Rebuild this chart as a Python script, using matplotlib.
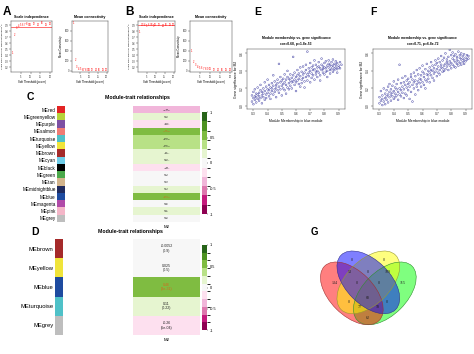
import matplotlib
matplotlib.use("Agg")
import matplotlib.pyplot as plt
import numpy as np
from matplotlib.colors import ListedColormap, BoundaryNorm
from matplotlib.cm import ScalarMappable
from matplotlib.patches import Ellipse

plt.rcParams["font.family"] = ["Liberation Sans", "DejaVu Sans"]

W, H = 474, 354

# ---- A / B : soft threshold selection ----
POWERS = [1, 2, 3, 4, 5, 6, 7, 8, 9, 10, 12, 14, 16, 18, 20]
A_R2 = [0.44, 0.74, 0.85, 0.88, 0.90, 0.91, 0.90, 0.92, 0.91, 0.90, 0.92, 0.90, 0.93, 0.91, 0.92]
A_K = [960, 220, 80, 40, 22, 14, 10, 8, 6, 5, 4, 3, 3, 2, 2]
A_CUT = 0.87
B_R2 = [0.78, 0.90, 0.91, 0.90, 0.89, 0.90, 0.91, 0.90, 0.89, 0.90, 0.90, 0.89, 0.90, 0.91, 0.90]
B_K = [385, 164, 108, 72, 55, 44, 36, 30, 26, 22, 17, 14, 11, 9, 8]
B_CUT = 0.90

# ---- C / D : module-trait heatmaps ----
C_MODULES = ["MEred", "MEgreenyellow", "MEpurple", "MEsalmon", "MEturquoise", "MEyellow",
             "MEbrown", "MEcyan", "MEblack", "MEgreen", "MEtan", "MEmidnightblue",
             "MEblue", "MEmagenta", "MEpink", "MEgrey"]
C_SWATCH = ["#e32424", "#b5d33a", "#7d4fa3", "#f07c74", "#4fc1c8", "#f0e43a",
            "#a52a2a", "#6ecde8", "#000000", "#4aa84a", "#d2b48c", "#1f2a5e",
            "#1e4ba0", "#b04aa8", "#f4b6c8", "#bebebe"]
C_COR = [-0.30, 0.12, -0.15, 0.50, 0.38, 0.35, 0.20, 0.18, -0.20, 0.04, 0.03, 0.14,
         0.46, 0.05, 0.11, 0.02]
C_P = ["6e-04", "0.2", "0.09", "1e-09", "8e-06", "4e-05", "0.02", "0.04", "0.02", "0.6",
       "0.7", "0.1", "3e-31", "0.6", "0.2", "0.8"]
D_MODULES = ["MEbrown", "MEyellow", "MEblue", "MEturquoise", "MEgrey"]
D_SWATCH = ["#a52a2a", "#f0e43a", "#1e4ba0", "#4fc1c8", "#bebebe"]
D_COR = [-0.0052, 0.025, 0.46, 0.11, -0.26]
D_P = ["0.9", "0.5", "3e-31", "0.22", "5e-04"]
TRAIT = "M2"
PIYG11 = ["#8e0152", "#c51b7d", "#de77ae", "#f1b6da", "#fde0ef", "#f7f7f7",
          "#e6f5d0", "#b8e186", "#7fbc41", "#4d9221", "#276419"]

# ---- E / F : module membership vs gene significance ----
E_ROWS = [
    (0.29, [0.12, 0.05]), (0.30, [0.16, 0.02, 0.09]), (0.31, [0.11, 0.19, 0.07]),
    (0.32, [0.14, 0.04, 0.10]), (0.33, [0.21, 0.08, 0.13]), (0.34, [0.06, 0.15, 0.11]),
    (0.35, [0.18, 0.09, 0.24]), (0.36, [0.12, 0.03, 0.16]), (0.37, [0.20, 0.10, 0.14]),
    (0.38, [0.07, 0.17, 0.27]), (0.39, [0.13, 0.22, 0.09]), (0.40, [0.19, 0.15, 0.30]),
    (0.41, [0.11, 0.24, 0.18]), (0.42, [0.21, 0.14, 0.08]), (0.43, [0.26, 0.17, 0.20]),
    (0.44, [0.35, 0.13, 0.23]), (0.45, [0.19, 0.28, 0.16]), (0.46, [0.24, 0.10, 0.21]),
    (0.47, [0.30, 0.18, 0.26]), (0.48, [0.48, 0.22, 0.15]), (0.49, [0.27, 0.19, 0.33]),
    (0.50, [0.23, 0.12, 0.29]), (0.51, [0.31, 0.20, 0.25]), (0.52, [0.18, 0.36, 0.27]),
    (0.53, [0.24, 0.30, 0.14]), (0.54, [0.33, 0.21, 0.40]), (0.55, [0.26, 0.19, 0.31]),
    (0.56, [0.36, 0.23, 0.29]), (0.57, [0.20, 0.32, 0.27]), (0.58, [0.56, 0.28, 0.35]),
    (0.59, [0.24, 0.38, 0.30]), (0.60, [0.33, 0.17, 0.27]), (0.61, [0.29, 0.41, 0.35]),
    (0.62, [0.37, 0.25, 0.31]), (0.63, [0.22, 0.34, 0.44]), (0.64, [0.39, 0.30, 0.26]),
    (0.65, [0.32, 0.45, 0.36]), (0.66, [0.28, 0.38, 0.21]), (0.67, [0.41, 0.33, 0.47]),
    (0.68, [0.62, 0.36, 0.29]), (0.69, [0.34, 0.43, 0.38]), (0.70, [0.40, 0.27, 0.49]),
    (0.71, [0.37, 0.44, 0.32]), (0.72, [0.46, 0.35, 0.41]), (0.73, [0.30, 0.42, 0.52]),
    (0.74, [0.39, 0.47, 0.36]), (0.75, [0.44, 0.33, 0.40]), (0.76, [0.50, 0.38, 0.45]),
    (0.77, [0.35, 0.43, 0.29]), (0.78, [0.47, 0.41, 0.54]), (0.79, [0.38, 0.45, 0.42]),
    (0.80, [0.49, 0.36, 0.44]), (0.81, [0.43, 0.51, 0.39]), (0.82, [0.46, 0.40, 0.33]),
    (0.83, [0.52, 0.44, 0.48]), (0.84, [0.41, 0.47, 0.37]), (0.85, [0.45, 0.50, 0.42]),
    (0.86, [0.39, 0.46, 0.53]), (0.87, [0.48, 0.43, 0.41]), (0.88, [0.44, 0.51, 0.47]),
    (0.89, [0.42, 0.38, 0.49]), (0.90, [0.46, 0.44]), (0.91, [0.43, 0.50]), (0.92, [0.47]),
]
F_ROWS = [
    (0.30, [0.03, 0.10]), (0.31, [0.17, 0.06]), (0.32, [0.01, 0.12, 0.08]),
    (0.33, [0.20, 0.05]), (0.34, [0.09, 0.14, 0.02]), (0.35, [0.18, 0.07, 0.11]),
    (0.36, [0.13, 0.22, 0.04]), (0.37, [0.10, 0.16, 0.25]), (0.38, [0.06, 0.19, 0.13]),
    (0.39, [0.23, 0.11, 0.15]), (0.40, [0.08, 0.28, 0.17]), (0.41, [0.14, 0.21, 0.10]),
    (0.42, [0.25, 0.12, 0.19]), (0.43, [0.16, 0.30, 0.07]), (0.44, [0.47, 0.20, 0.13]),
    (0.45, [0.18, 0.26, 0.11]), (0.46, [0.22, 0.15, 0.32]), (0.47, [0.27, 0.09, 0.19]),
    (0.48, [0.14, 0.24, 0.34]), (0.49, [0.21, 0.29, 0.12]), (0.50, [0.31, 0.18, 0.25]),
    (0.51, [0.08, 0.27, 0.22]), (0.52, [0.33, 0.16, 0.36]), (0.53, [0.24, 0.30, 0.05]),
    (0.54, [0.20, 0.38, 0.27]), (0.55, [0.29, 0.13, 0.34]), (0.56, [0.25, 0.41, 0.22]),
    (0.57, [0.36, 0.28, 0.18]), (0.58, [0.31, 0.43, 0.26]), (0.59, [0.22, 0.35, 0.30]),
    (0.60, [0.39, 0.27, 0.46]), (0.61, [0.33, 0.24, 0.37]), (0.62, [0.42, 0.30, 0.20]),
    (0.63, [0.36, 0.48, 0.28]), (0.64, [0.31, 0.40, 0.35]), (0.65, [0.44, 0.27, 0.38]),
    (0.66, [0.35, 0.50, 0.41]), (0.67, [0.40, 0.32, 0.46]), (0.68, [0.29, 0.43, 0.37]),
    (0.69, [0.47, 0.39, 0.52]), (0.70, [0.42, 0.34, 0.49]), (0.71, [0.38, 0.54, 0.45]),
    (0.72, [0.50, 0.41, 0.36]), (0.73, [0.44, 0.57, 0.47]), (0.74, [0.39, 0.52, 0.43]),
    (0.75, [0.55, 0.46, 0.40]), (0.76, [0.48, 0.60, 0.42]), (0.77, [0.53, 0.45, 0.50]),
    (0.78, [0.41, 0.56, 0.48]), (0.79, [0.64, 0.51, 0.46]), (0.80, [0.49, 0.43, 0.58]),
    (0.81, [0.54, 0.47, 0.61]), (0.82, [0.45, 0.52, 0.57]), (0.83, [0.50, 0.59, 0.44]),
    (0.84, [0.56, 0.48, 0.53]), (0.85, [0.51, 0.62, 0.46]), (0.86, [0.55, 0.49, 0.58]),
    (0.87, [0.47, 0.53, 0.60]), (0.88, [0.57, 0.50, 0.54]), (0.89, [0.52, 0.59, 0.48]),
    (0.90, [0.55, 0.51]), (0.91, [0.58, 0.53]), (0.92, [0.54, 0.57]),
]
E_TITLE = "Module membership vs. gene significance\ncor=0.68, p=1.8e-53"
F_TITLE = "Module membership vs. gene significance\ncor=0.71, p=6.8e-72"

# ---- G : venn ----
VENN_COUNTS = [0, 0, 53, 0, 109, 134, 0, 0, 115, 68, 0, 77, 58, 0, 62]
# label positions (venn unit coords), layout only
VENN_POS = [(0.355, 0.773), (0.645, 0.773), (0.327, 0.664), (0.5, 0.664), (0.673, 0.664),
            (0.191, 0.564), (0.40, 0.564), (0.60, 0.564), (0.809, 0.564), (0.5, 0.427),
            (0.327, 0.391), (0.418, 0.345), (0.582, 0.345), (0.673, 0.391), (0.5, 0.245)]

fig = plt.figure(figsize=(W / 100, H / 100), dpi=100)


def px_axes(x0, y0, w, h):
    return fig.add_axes([x0 / W, 1 - (y0 + h) / H, w / W, h / H])


def px_text(x, y, s, **kw):
    fig.text(x / W, 1 - y / H, s, **kw)


def r_style(ax, lab=2.2):
    for sp in ax.spines.values():
        sp.set_linewidth(0.35)
        sp.set_color("#444")
    ax.tick_params(length=1.2, width=0.3, labelsize=lab, pad=0.8, colors="#333")


def threshold_pair(x0a, wa, x0b, wb, r2, k, cut):
    ax = px_axes(x0a, 21, wa, 51)
    for p, v in zip(POWERS, r2):
        ax.text(p, v, str(p), color="red", fontsize=1.8, ha="center", va="center")
    ax.axhline(cut, color="red", lw=0.4)
    ax.set_xlim(0.2, 20.8)
    ax.set_ylim(0.12, 0.97)
    ax.set_xticks([5, 10, 15, 20])
    ax.set_yticks(np.arange(0.2, 0.95, 0.1))
    r_style(ax, 1.8)
    ax.set_title("Scale independence", fontsize=2.6, fontweight="bold", pad=2)
    ax.set_xlabel("Soft Threshold (power)", fontsize=2, labelpad=1)
    ax.set_ylabel("Scale Free Topology Model Fit,signed R^2", fontsize=1.7, labelpad=1)

    ax = px_axes(x0b, 21, wb, 51)
    for p, v in zip(POWERS, k):
        ax.text(p, v, str(p), color="red", fontsize=1.8, ha="center", va="center")
    ax.set_xlim(0.2, 20.8)
    ax.set_ylim(-30, 1000)
    ax.set_xticks([5, 10, 15, 20])
    ax.set_yticks([0, 200, 400, 600, 800])
    r_style(ax, 1.8)
    ax.set_title("Mean connectivity", fontsize=2.6, fontweight="bold", pad=2)
    ax.set_xlabel("Soft Threshold (power)", fontsize=2, labelpad=1)
    ax.set_ylabel("Mean Connectivity", fontsize=1.9, labelpad=1)


threshold_pair(11, 41, 72, 36, A_R2, A_K, A_CUT)
threshold_pair(138, 37, 190, 42, B_R2, B_K, B_CUT)
px_text(3, 12, "A", fontsize=8.5, fontweight="bold", va="center")
px_text(125, 12, "B", fontsize=8.5, fontweight="bold", va="center")


def scatter_panel(x0, w, rows, title):
    xs = [x for x, ys in rows for _ in ys]
    ys = [y for _, yy in rows for y in yy]
    ax = px_axes(x0, 49, w, 60)
    ax.scatter(xs, ys, s=1.6, facecolors="none", edgecolors="#4b4ba8", linewidths=0.35)
    ax.set_xlim(0.255, 0.945)
    ax.set_ylim(-0.035, 0.65)
    ax.set_xticks(np.arange(0.3, 0.95, 0.1))
    ax.set_xticklabels(["0.3", "0.4", "0.5", "0.6", "0.7", "0.8", "0.9"])
    ax.set_yticks([0.0, 0.2, 0.4, 0.6])
    ax.set_yticklabels(["0.0", "0.2", "0.4", "0.6"], rotation=90, va="center")
    r_style(ax, 2.4)
    ax.set_title(title, fontsize=2.4, fontweight="bold", pad=3, linespacing=1.6)
    ax.set_xlabel("Module Membership in blue module", fontsize=2.4, labelpad=2)
    ax.set_ylabel("Gene significance for M2", fontsize=2.4, labelpad=1.5)


scatter_panel(247, 98, E_ROWS, E_TITLE)
scatter_panel(373, 99, F_ROWS, F_TITLE)
px_text(254, 12, "E", fontsize=7.5, fontweight="bold", va="center")
px_text(370, 12, "F", fontsize=7.5, fontweight="bold", va="center")

cmap = ListedColormap(PIYG11)
norm = BoundaryNorm(np.linspace(-1, 1, 12), cmap.N)


def heat_panel(y0, h, names, swatch, cor, pv, sw_x, sw_w, lab_fs, cell_fs, cb_y, cb_h):
    n = len(names)
    sax = px_axes(sw_x, y0, sw_w, h)
    sax.imshow(np.arange(n)[:, None], cmap=ListedColormap(swatch), aspect="auto",
               interpolation="nearest")
    sax.set_xticks([])
    sax.set_yticks(range(n))
    sax.set_yticklabels(names, fontsize=lab_fs)
    sax.tick_params(length=0, pad=1)
    for sp in sax.spines.values():
        sp.set_visible(False)

    hax = px_axes(133, y0, 67, h)
    hax.imshow(np.array(cor)[:, None], cmap=cmap, norm=norm, aspect="auto",
               interpolation="nearest")
    for i, (c, p) in enumerate(zip(cor, pv)):
        col = "#d2691e" if c > 0.45 else "#222"
        hax.text(0, i, f"{c:.2g}\n({p})", ha="center", va="center", fontsize=cell_fs,
                 color=col, linespacing=1.1)
    hax.set_yticks([])
    hax.set_xticks([0])
    hax.set_xticklabels([TRAIT], fontsize=3.2)
    hax.tick_params(length=0, pad=2.5)
    for sp in hax.spines.values():
        sp.set_visible(False)

    cax = px_axes(202, cb_y, 5, cb_h)
    cb = fig.colorbar(ScalarMappable(norm=norm, cmap=cmap), cax=cax,
                      ticks=[-1, -0.5, 0, 0.5, 1])
    cb.ax.set_yticklabels(["-1", "-0.5", "0", "0.5", "1"])
    cb.ax.tick_params(labelsize=2.8, length=1, width=0.3, pad=1)
    cb.outline.set_visible(False)


heat_panel(106, 116, C_MODULES, C_SWATCH, C_COR, C_P, 57, 7, 3.3, 1.7, 112, 102)
px_text(27, 97, "C", fontsize=7.5, fontweight="bold", va="center")
px_text(137, 97, "Module-trait relationships", fontsize=3.8, fontweight="bold",
        ha="center", va="center")

heat_panel(239, 96, D_MODULES, D_SWATCH, D_COR, D_P, 55, 8, 4.2, 2.6, 245, 85)
px_text(31, 232, "D", fontsize=7.5, fontweight="bold", va="center")
px_text(130, 232, "Module-trait relationships", fontsize=3.8, fontweight="bold",
        ha="center", va="center")

# Venn: unit coords, 110 px per unit
vax = px_axes(310, 240, 115, 100)
vax.set_xlim(-0.03, 1.015)
vax.set_ylim(0.046, 0.955)
vax.axis("off")
ellipses = [  # draw order: green, red, yellow, blue
    ((0.65, 0.47), 45, "#00ff00", "#2f8f2f"),
    ((0.35, 0.47), -45, "#ff0000", "#a03030"),
    ((0.50, 0.57), 45, "#ffff00", "#9a9a30"),
    ((0.50, 0.57), -45, "#0000ff", "#303090"),
]
for (cx, cy), ang, fc, ec in ellipses:
    vax.add_patch(Ellipse((cx, cy), 0.70, 0.40, angle=ang, facecolor=fc, alpha=0.5,
                          edgecolor="none"))
for (cx, cy), ang, fc, ec in ellipses:
    vax.add_patch(Ellipse((cx, cy), 0.70, 0.40, angle=ang, facecolor="none",
                          edgecolor=ec, lw=0.4))
for (x, y), n in zip(VENN_POS, VENN_COUNTS):
    vax.text(x, y, str(n), ha="center", va="center", fontsize=3,
             family=["Liberation Serif", "DejaVu Serif"], color="#222")
px_text(311, 232, "G", fontsize=7, fontweight="bold", va="center")

fig.savefig("out.png", dpi=100)
